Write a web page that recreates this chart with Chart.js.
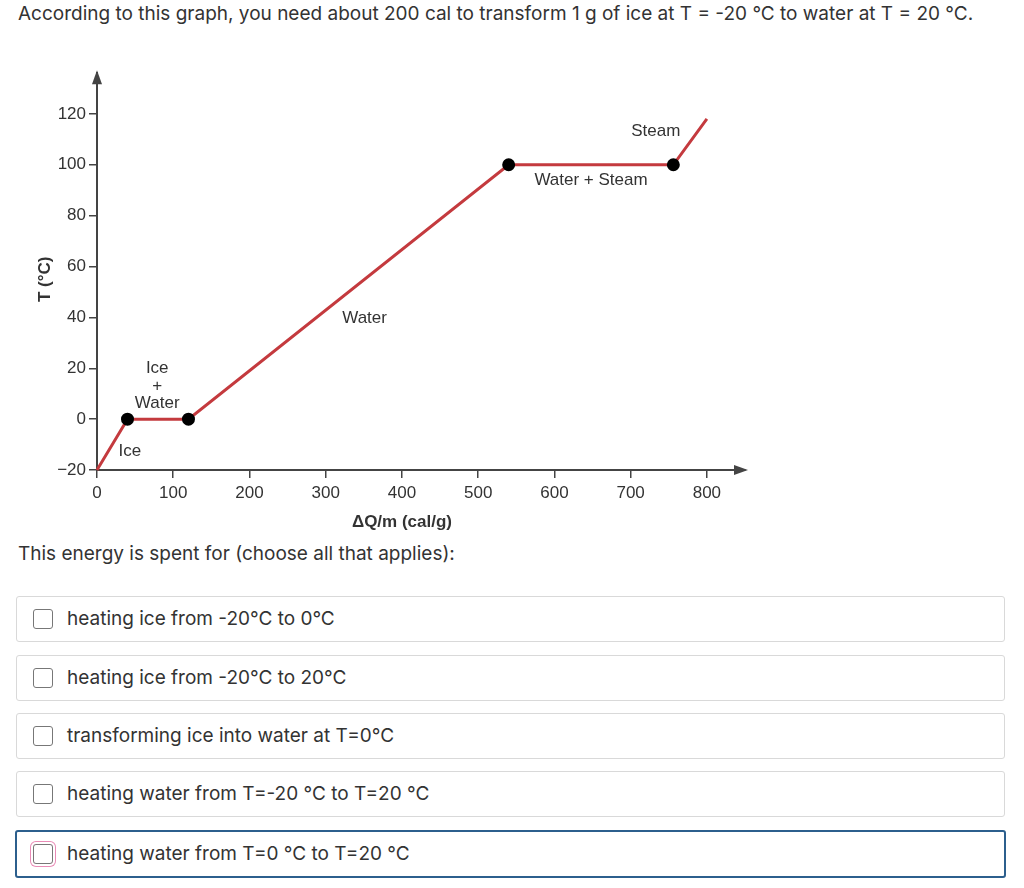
<!DOCTYPE html>
<html>
<head>
<meta charset="utf-8">
<script src="https://cdn.jsdelivr.net/npm/chart.js@4"></script>
<style>
  body { margin: 0; background: #fff; font-family: Inter, "Open Sans", sans-serif; color: #333; }
  .q { position: absolute; left: 18px; top: 2px; font-size: 19px; white-space: nowrap; }
  .sub { position: absolute; left: 18px; top: 542px; font-size: 19px; white-space: nowrap; }
  #wrap { position: absolute; left: 0; top: 60px; width: 780px; height: 480px; }
  .opt { position: absolute; left: 16px; width: 987px; height: 44px; border: 1px solid #d9d9d9; border-radius: 3px; box-sizing: content-box; }
  .opt .box { position: absolute; left: 16px; top: 12px; width: 18px; height: 18px; border: 1px solid #777; border-radius: 3px; }
  .opt .txt { position: absolute; left: 50px; top: 10px; font-size: 19px; white-space: nowrap; }
  .opt.active { border: 2px solid #2c5f8d; left: 15px; }
  .opt.active .box { box-shadow: 0 0 0 2px #fff, 0 0 0 3px #e98bb6; }
</style>
</head>
<body>
<div class="q">According to this graph, you need about 200 cal to transform 1 g of ice at T = -20 °C to water at T = 20 °C.</div>
<div id="wrap"><canvas id="chart" width="780" height="480"></canvas></div>
<div class="sub">This energy is spent for (choose all that applies):</div>
<div id="opts"></div>
<script>
// heating curve of 1 g of water
const heatPerMass = [0, 40, 120, 540, 756, 800];   // ΔQ/m (cal/g)
const temperature = [-20, 0, 0, 100, 100, 118];    // T (°C)
const xTickValues = [0, 100, 200, 300, 400, 500, 600, 700, 800];
const yTickValues = [-20, 0, 20, 40, 60, 80, 100, 120];
const phaseLabels = [
  { text: ['Ice'], x: 43, y: -12.5 },
  { text: ['Ice', '+', 'Water'], x: 79, y: 13 },
  { text: ['Water'], x: 351, y: 39.6 },
  { text: ['Water + Steam'], x: 648, y: 93.7 },
  { text: ['Steam'], x: 733, y: 113 }
];
const choices = [
  'heating ice from -20°C to 0°C',
  'heating ice from -20°C to 20°C',
  'transforming ice into water at T=0°C',
  'heating water from T=-20 °C to T=20 °C',
  'heating water from T=0 °C to T=20 °C'
];

const axisColor = '#444';
const textColor = '#333';
const chartFont = '"Liberation Sans", Arial, sans-serif';

const extras = {
  id: 'extras',
  afterDraw(chart) {
    const { ctx, chartArea: a, scales: { x, y } } = chart;
    ctx.save();
    ctx.fillStyle = axisColor;
    // arrow heads
    ctx.beginPath();
    ctx.moveTo(a.right + 3, a.bottom);
    ctx.lineTo(a.right - 11, a.bottom - 5);
    ctx.lineTo(a.right - 11, a.bottom + 5);
    ctx.closePath();
    ctx.fill();
    ctx.beginPath();
    ctx.moveTo(a.left, a.top - 3);
    ctx.lineTo(a.left - 5, a.top + 11);
    ctx.lineTo(a.left + 5, a.top + 11);
    ctx.closePath();
    ctx.fill();

    // phase labels
    ctx.fillStyle = textColor;
    ctx.font = '17px ' + chartFont;
    ctx.textAlign = 'center';
    ctx.textBaseline = 'middle';
    phaseLabels.forEach(l => {
      const cx = x.getPixelForValue(l.x);
      const cy = y.getPixelForValue(l.y);
      const lh = 17.5;
      const start = cy - (l.text.length - 1) * lh / 2;
      l.text.forEach((t, i) => ctx.fillText(t, cx, start + i * lh));
    });

    // axis titles
    ctx.font = 'bold 17px ' + chartFont;
    ctx.fillText('ΔQ/m (cal/g)', x.getPixelForValue(400), a.bottom + 52);
    ctx.translate(45, y.getPixelForValue(55));
    ctx.rotate(-Math.PI / 2);
    ctx.fillText('T (°C)', 0, 0);
    ctx.restore();
  }
};

new Chart(document.getElementById('chart'), {
  type: 'line',
  data: {
    datasets: [{
      data: heatPerMass.map((q, i) => ({ x: q, y: temperature[i] })),
      borderColor: '#c43a3e',
      borderWidth: 3,
      pointBackgroundColor: '#000',
      pointBorderColor: '#000',
      pointRadius: c => (c.dataIndex === 0 || c.dataIndex === heatPerMass.length - 1) ? 0 : 5,
      tension: 0,
      clip: false
    }]
  },
  options: {
    responsive: false,
    animation: false,
    layout: { padding: { left: 0, top: 12, right: 35, bottom: 0 } },
    plugins: { legend: { display: false }, tooltip: { enabled: false } },
    scales: {
      x: {
        type: 'linear',
        min: 0,
        max: 850,
        afterFit: s => { s.height = 70; },
        afterBuildTicks: s => { s.ticks = xTickValues.map(v => ({ value: v })); },
        ticks: { color: textColor, font: { family: chartFont, size: 17 }, padding: 5, maxRotation: 0 },
        grid: { drawOnChartArea: false, tickLength: 8, color: axisColor, lineWidth: 1.5 },
        border: { color: axisColor, width: 2 }
      },
      y: {
        min: -20,
        max: 136,
        afterFit: s => { s.width = 97; },
        afterBuildTicks: s => { s.ticks = yTickValues.map(v => ({ value: v })); },
        ticks: {
          color: textColor, font: { family: chartFont, size: 17 }, padding: 3,
          callback: v => v < 0 ? '\u2212' + Math.abs(v) : v
        },
        grid: { drawOnChartArea: false, tickLength: 8, color: axisColor, lineWidth: 1.5 },
        border: { color: axisColor, width: 2 }
      }
    }
  },
  plugins: [extras]
});

// answer choices
const optTops = [596, 655, 713, 771, 830];
const opts = document.getElementById('opts');
choices.forEach((c, i) => {
  const d = document.createElement('div');
  d.className = 'opt' + (i === choices.length - 1 ? ' active' : '');
  d.style.top = optTops[i] + 'px';
  d.innerHTML = '<div class="box"></div><div class="txt"></div>';
  d.querySelector('.txt').textContent = c;
  opts.appendChild(d);
});
</script>
</body>
</html>
